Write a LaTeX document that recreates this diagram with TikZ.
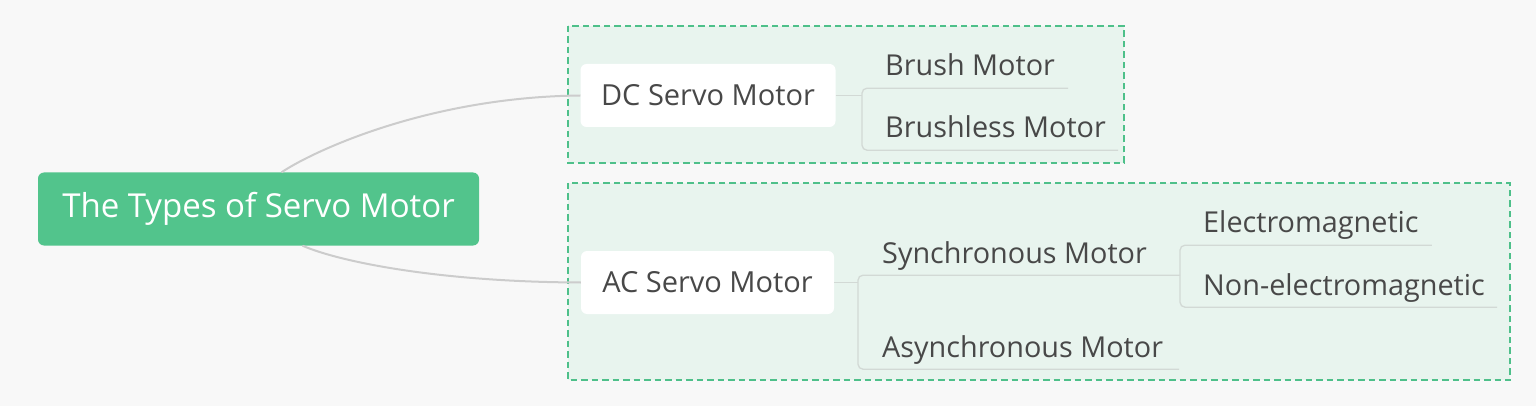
\documentclass[tikz,border=0pt]{standalone}
\usepackage{fontspec}
\setmainfont{Open Sans}
\usepackage{xcolor}
\usepackage{tikz}
\usetikzlibrary{calc}
\definecolor{pageGray}{HTML}{F8F8F8}
\definecolor{rootGreen}{HTML}{52C48C}
\definecolor{groupFill}{HTML}{E8F4EE}
\definecolor{groupEdge}{HTML}{4EC08A}
\definecolor{textGray}{HTML}{484848}
\definecolor{branchGray}{HTML}{CCCCCC}
\definecolor{stemGray}{HTML}{D2D9D5}

\begin{document}
\begin{tikzpicture}[x=1pt, y=-1pt,
    rootbox/.style={fill=rootGreen, rounded corners=6pt, text=white, font=\fontsize{33}{36}\selectfont, inner sep=0pt},
    mainbox/.style={fill=white, rounded corners=6pt, text=textGray, font=\fontsize{29}{32}\selectfont, inner sep=0pt, minimum height=63pt},
    leaf/.style={anchor=base west, inner sep=0pt, text height=20pt, text depth=12pt, text=textGray, font=\fontsize{28.8}{32}\selectfont},
    group/.style={draw=groupEdge, fill=groupFill, line width=1.9pt, dash pattern=on 6.5pt off 4pt},
    branch/.style={draw=branchGray, line width=2pt},
    stem/.style={draw=stemGray, line width=1.3pt, rounded corners=5pt}]
    \fill[pageGray] (0,0) rectangle (1536,406);
    \useasboundingbox (0,0) rectangle (1536,406);
    \draw[group] (568,26) rectangle (1124,163);
    \draw[group] (568,183) rectangle (1510,380);
    \node[rootbox, minimum width=441pt, minimum height=73pt] (root) at (258.5,209) {The Types of Servo Motor};
    \node[mainbox, minimum width=255pt] (dc) at (708,95.5) {DC Servo Motor};
    \node[mainbox, minimum width=253pt] (ac) at (707.5,282.5) {AC Servo Motor};
    \node[leaf] (brush) at (885,76) {Brush Motor};
    \node[leaf] (brushless) at (885,138) {Brushless Motor};
    \node[leaf] (sync) at (882,263) {Synchronous Motor};
    \node[leaf] (async) at (882,357) {Asynchronous Motor};
    \node[leaf] (electro) at (1203,233) {Electromagnetic};
    \node[leaf] (nonelectro) at (1203,295) {Non-electromagnetic};
    \coordinate (dcJ) at ([xshift=-23pt]brush.south west);
    \coordinate (acJ) at ([xshift=-24pt]sync.south west);
    \coordinate (syncJ) at ([xshift=-23pt]electro.south west);
    \draw[branch] ([xshift=23pt]root.north) .. controls (315,150) and (430,97) .. (dc.west);
    \draw[branch] ([xshift=44pt]root.south) .. controls (340,262) and (440,282) .. (ac.west);
    \draw[stem] (dc.east) -- (dc.east -| dcJ);
    \draw[stem] ([xshift=13pt]brush.south east) -- (dcJ) -- ([xshift=-23pt]brushless.south west) -- ([xshift=12pt]brushless.south east);
    \draw[stem] (ac.east) -- (ac.east -| acJ);
    \draw[stem] (syncJ |- sync.south) -- (acJ) -- ([xshift=-24pt]async.south west) -- ([xshift=16pt]async.south east);
    \draw[stem] ([xshift=13pt]electro.south east) -- (syncJ) -- ([xshift=-23pt]nonelectro.south west) -- ([xshift=12pt]nonelectro.south east);
\end{tikzpicture}
\end{document}
